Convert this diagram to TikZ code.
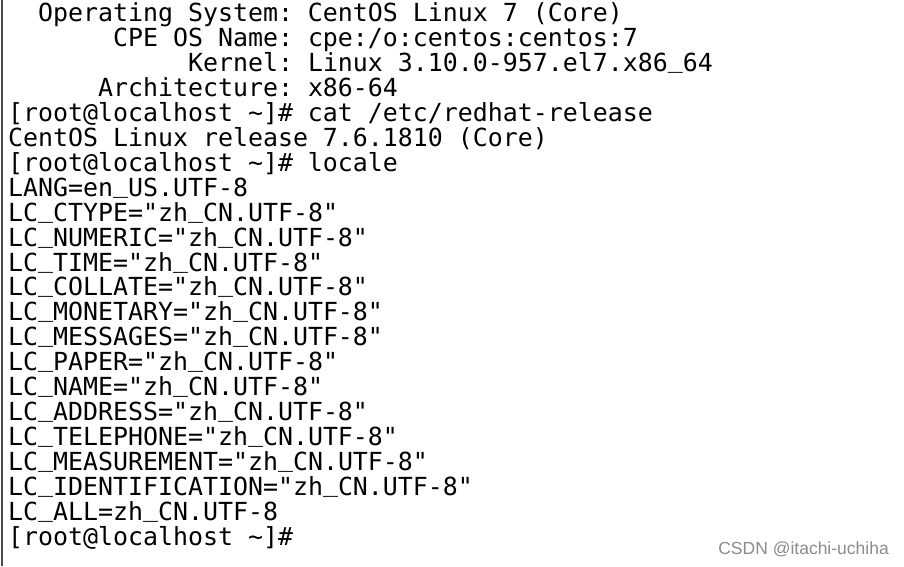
\documentclass[tikz,border=0pt]{standalone}
\usepackage{fontspec}
\setmonofont{DejaVu Sans Mono}
\setsansfont{Liberation Sans}
\newcommand\myus{\raisebox{4pt}{\_}}
\begin{document}
\begin{tikzpicture}[x=1pt,y=-1pt,
  ln/.style={anchor=west,inner sep=0pt,text height=17pt,text depth=4pt,font=\fontsize{24.9pt}{25pt}\ttfamily},
  wm/.style={anchor=east,inner sep=0pt,text=black!45,font=\fontsize{17.5pt}{19pt}\sffamily}]
\useasboundingbox[fill=white] (0,0) rectangle (904,566);
\draw[line width=2pt,black!70] (1.5,0) -- (1.5,566);
\foreach \t [count=\i] in {
{\ \ Operating System: CentOS Linux 7 (Core)},
{\ \ \ \ \ \ \ CPE OS Name: cpe:/o:centos:centos:7},
{\ \ \ \ \ \ \ \ \ \ \ \ Kernel: Linux 3.10.0-957.el7.x86\myus 64},
{\ \ \ \ \ \ Architecture: x86-64},
{[root@localhost \textasciitilde]\# cat /etc/redhat-release},
{CentOS Linux release 7.6.1810 (Core)},
{[root@localhost \textasciitilde]\# locale},
{LANG=en\myus US.UTF-8},
{LC\myus CTYPE="zh\myus CN.UTF-8"},
{LC\myus NUMERIC="zh\myus CN.UTF-8"},
{LC\myus TIME="zh\myus CN.UTF-8"},
{LC\myus COLLATE="zh\myus CN.UTF-8"},
{LC\myus MONETARY="zh\myus CN.UTF-8"},
{LC\myus MESSAGES="zh\myus CN.UTF-8"},
{LC\myus PAPER="zh\myus CN.UTF-8"},
{LC\myus NAME="zh\myus CN.UTF-8"},
{LC\myus ADDRESS="zh\myus CN.UTF-8"},
{LC\myus TELEPHONE="zh\myus CN.UTF-8"},
{LC\myus MEASUREMENT="zh\myus CN.UTF-8"},
{LC\myus IDENTIFICATION="zh\myus CN.UTF-8"},
{LC\myus ALL=zh\myus CN.UTF-8},
{[root@localhost \textasciitilde]\#}}
  \node[ln] (l\i) at (8,{15+(\i-1)*24.95}) {\t};
\node[wm] (wm) at (889,549) {CSDN @itachi-uchiha};
\end{tikzpicture}
\end{document}
